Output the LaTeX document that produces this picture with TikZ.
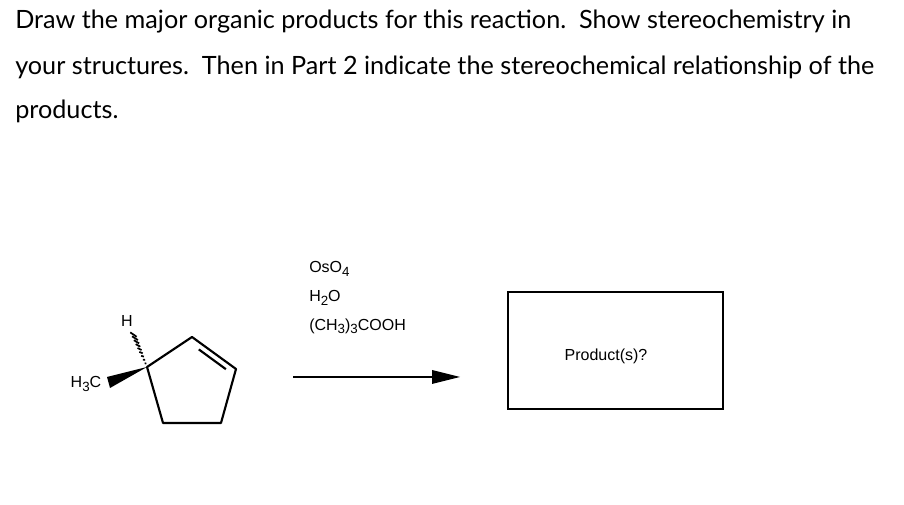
\documentclass[tikz,border=0pt]{standalone}
\usepackage{fontspec}
\usetikzlibrary{calc}
\setmainfont{Lato}
\newfontfamily\chemfont{Liberation Sans}
\newcommand{\chsub}[1]{\raisebox{-0.4ex}{\fontsize{10pt}{10pt}\selectfont #1}}
\begin{document}
\begin{tikzpicture}[x=0.75pt,y=-0.75pt,
  bond/.style={line width=1.6pt,line join=round},
  head/.style={anchor=base west,font=\fontsize{18.9pt}{22pt}\selectfont,inner sep=0},
  chem/.style={font=\chemfont\fontsize{12pt}{14pt}\selectfont,inner sep=0}]
\useasboundingbox (0,0) rectangle (904,505);
\node[head] (l1) at (15,29) {Draw the major organic products for this reaction.\ \ Show stereochemistry in};
\node[head] (l2) at (15,75) {your structures.\ \ Then in Part 2 indicate the stereochemical relationship of the};
\node[head] (l3) at (15,119) {products.};
% ring
\coordinate (c1) at (147,367);
\coordinate (c2) at (192,337);
\coordinate (c3) at (236,369);
\coordinate (c4) at (221,423);
\coordinate (c5) at (163,423);
\draw[bond] (c1) -- (c2) -- (c3) -- (c4) -- (c5) -- cycle;
\draw[bond] ($(c2)!0.2!(c3)+(-2,6)$) -- ($(c2)!0.85!(c3)+(-3.5,5)$);
% H hashed
\node[chem] (h) at (127,321) {H};
\foreach \t in {0.1,0.2,...,0.95}
  \draw[line width=1.3pt] ($(c1)!\t!(132,331)+(-0.5-3*\t,0.5-3*\t)$) -- ($(c1)!\t!(132,331)+(0.5+3*\t,-0.5+3*\t)$);
% methyl wedge
\node[chem] (me) at (86,384) {H\chsub{3}C};
\fill (c1) -- (107,377) -- (110,388) -- cycle;
% reagents
\node[chem,anchor=west] (r1) at (309,269) {OsO\chsub{4}};
\node[chem,anchor=west] (r2) at (309,298) {H\chsub{2}O};
\node[chem,anchor=west] (r3) at (309,326) {(CH\chsub{3})\chsub{3}COOH};
\coordinate (a1) at (293,377);
\coordinate (a2) at (460,377);
\draw[line width=1.2pt] (a1) -- (432,377);
\fill (432,370) -- (a2) -- (432,384) -- cycle;
% box
\node[draw,line width=1.5pt,minimum width=215*0.75pt,minimum height=117*0.75pt,inner sep=0] (box) at (615.5,350.5) {};
\node[chem] (p) at (606,356) {Product(s)?};
\end{tikzpicture}
\end{document}
